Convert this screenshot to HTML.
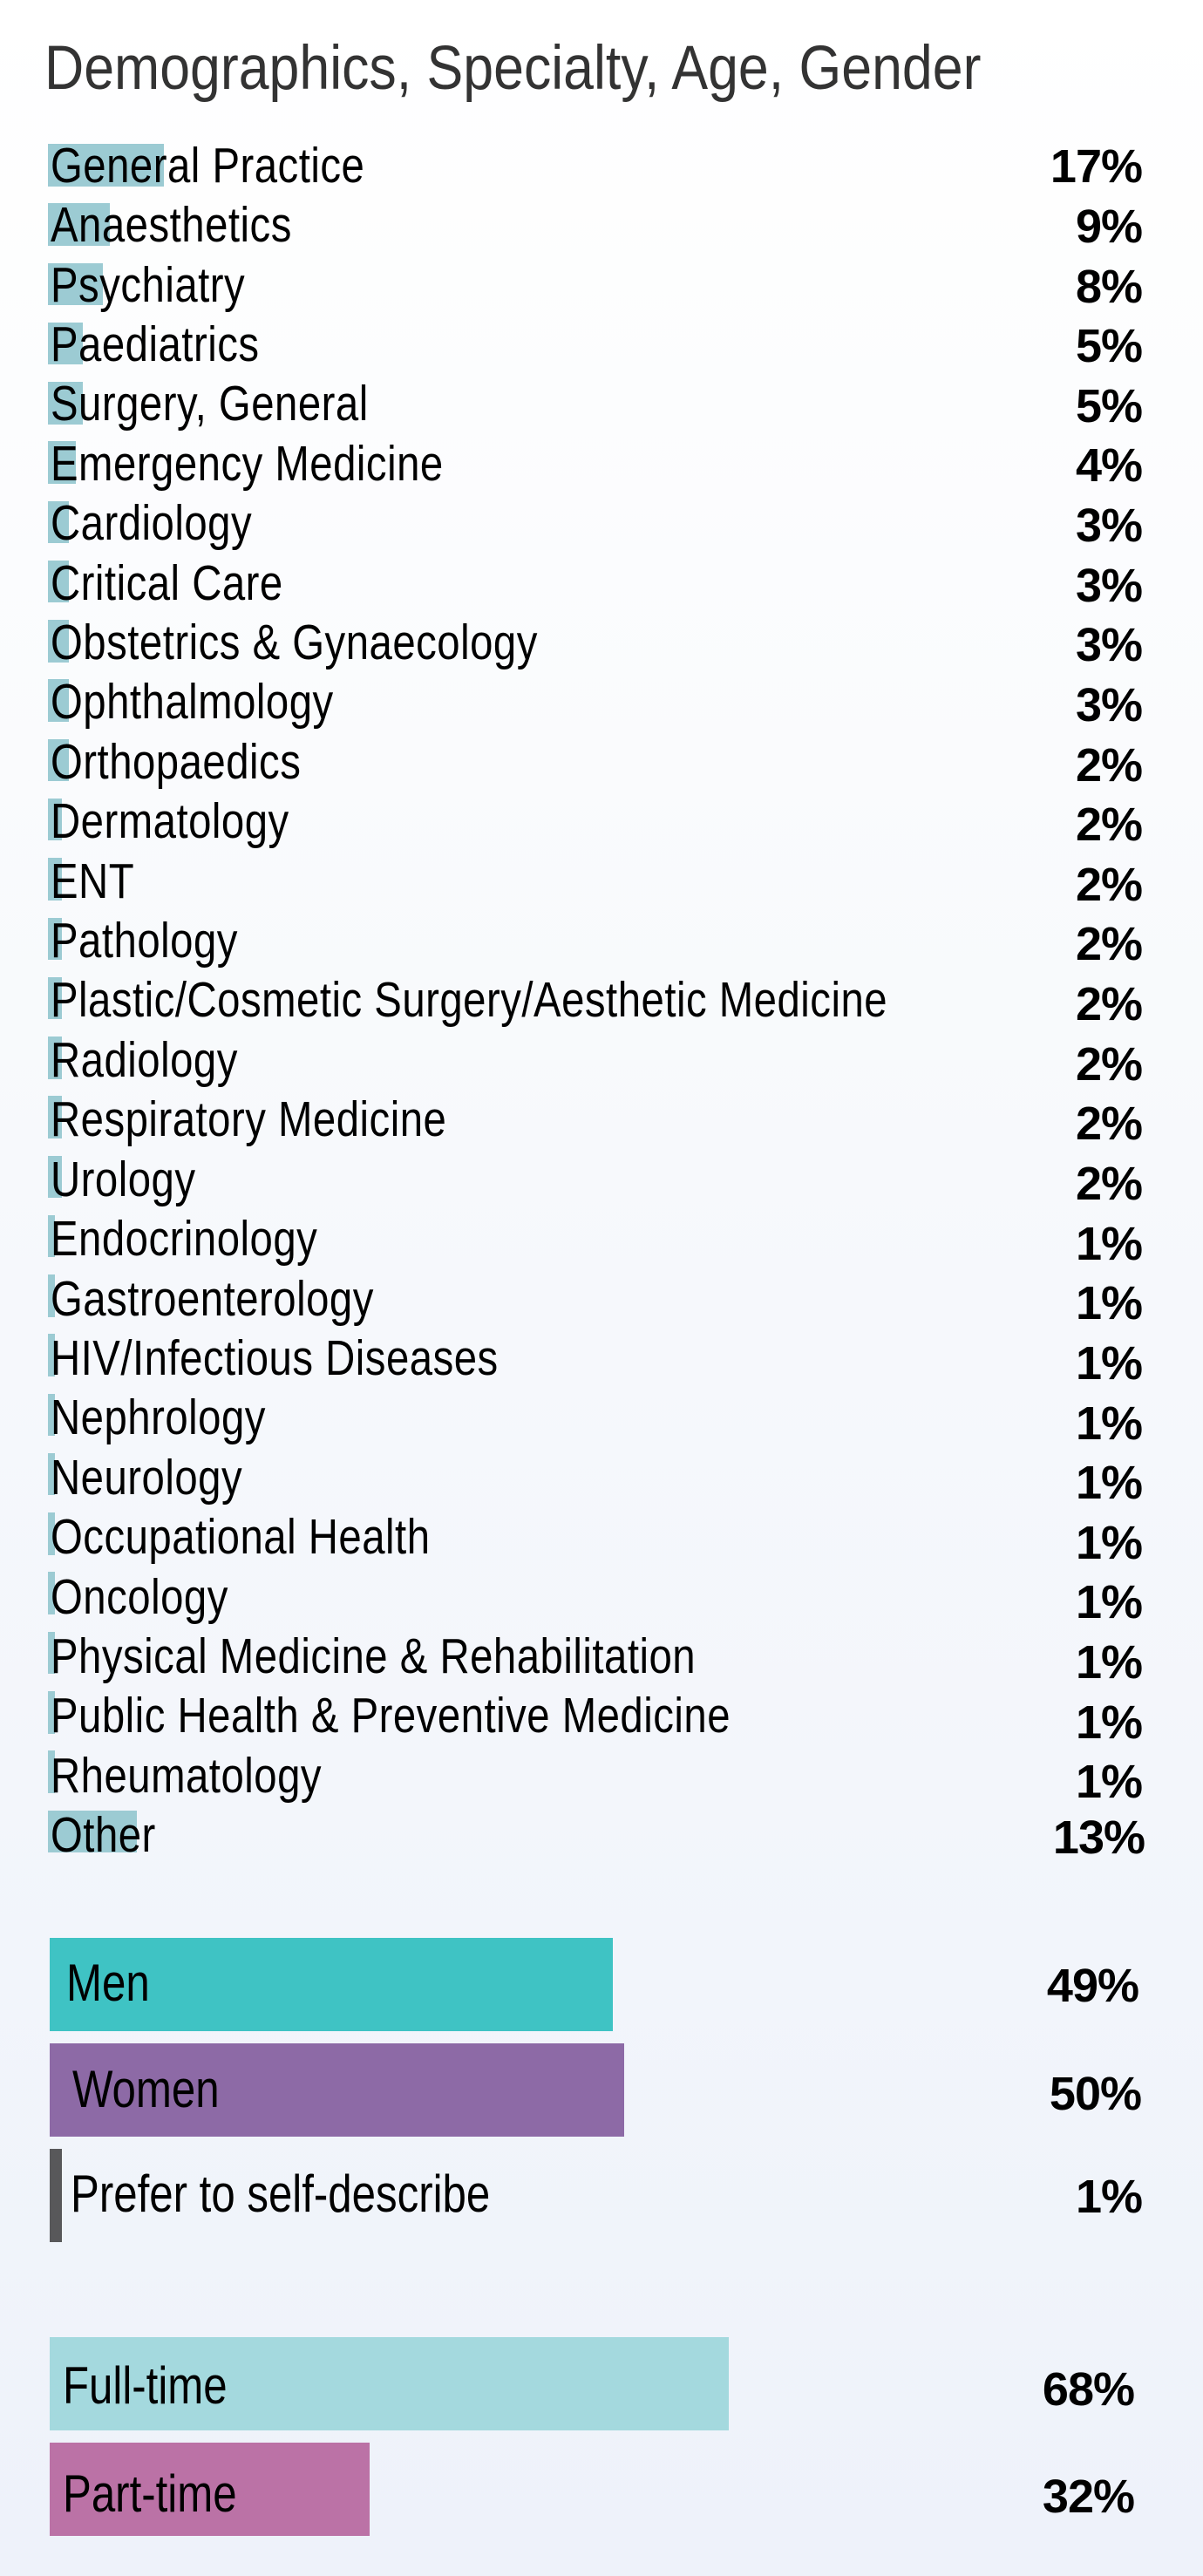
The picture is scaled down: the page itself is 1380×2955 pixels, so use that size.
<!DOCTYPE html>
<html>
<head>
<meta charset="utf-8">
<style>
  html, body { margin:0; padding:0; }
  body {
    width:1380px; height:2955px; overflow:hidden; position:relative;
    background: linear-gradient(to bottom, #ffffff 0%, #f7f9fc 45%, #eef2fa 100%);
    font-family: "Liberation Sans", Arial, sans-serif;
  }
  .title {
    position:absolute; left:51px; top:43px; font-size:71px; line-height:71px;
    color:#333; white-space:nowrap; transform:scaleX(0.882); transform-origin:0 0;
  }
  .bar { position:absolute; left:55px; height:48.5px; background:#9ccbd3;
    top: calc(165px + var(--i) * 68.27px); }
  .lab { position:absolute; left:58px; font-size:57px; line-height:57px; color:#000;
    white-space:nowrap; transform:scaleX(0.83); transform-origin:0 0; letter-spacing:0.6px;
    top: calc(161.75px + var(--i) * 68.41px); }
  .pct { position:absolute; right:70px; font-size:54px; line-height:54px; font-weight:bold;
    color:#000; letter-spacing:-1px; white-space:nowrap; text-align:right;
    top: calc(164.3px + var(--i) * 68.63px); }
  .gbar { position:absolute; left:57px; height:107px; }
  .glab { position:absolute; font-size:60px; line-height:60px; color:#000; white-space:nowrap;
    transform:scaleX(0.82); transform-origin:0 0; }
  .gpct { position:absolute; font-size:54px; line-height:54px; font-weight:bold; color:#000;
    letter-spacing:-1px; white-space:nowrap; text-align:right; }
</style>
</head>
<body>
<div class="title">Demographics, Specialty, Age, Gender</div>

<div class="bar" style="--i:0;width:133px"></div>
<div class="bar" style="--i:1;width:71px"></div>
<div class="bar" style="--i:2;width:63px"></div>
<div class="bar" style="--i:3;width:40px"></div>
<div class="bar" style="--i:4;width:40px"></div>
<div class="bar" style="--i:5;width:32px"></div>
<div class="bar" style="--i:6;width:24px"></div>
<div class="bar" style="--i:7;width:24px"></div>
<div class="bar" style="--i:8;width:24px"></div>
<div class="bar" style="--i:9;width:24px"></div>
<div class="bar" style="--i:10;width:24px"></div>
<div class="bar" style="--i:11;width:16px"></div>
<div class="bar" style="--i:12;width:16px"></div>
<div class="bar" style="--i:13;width:16px"></div>
<div class="bar" style="--i:14;width:16px"></div>
<div class="bar" style="--i:15;width:16px"></div>
<div class="bar" style="--i:16;width:16px"></div>
<div class="bar" style="--i:17;width:16px"></div>
<div class="bar" style="--i:18;width:8.3px"></div>
<div class="bar" style="--i:19;width:8.3px"></div>
<div class="bar" style="--i:20;width:8.3px"></div>
<div class="bar" style="--i:21;width:8.3px"></div>
<div class="bar" style="--i:22;width:8.3px"></div>
<div class="bar" style="--i:23;width:8.3px"></div>
<div class="bar" style="--i:24;width:8.3px"></div>
<div class="bar" style="--i:25;width:8.3px"></div>
<div class="bar" style="--i:26;width:8.3px"></div>
<div class="bar" style="--i:27;width:8.3px"></div>
<div class="bar" style="--i:28;width:102px"></div>

<div class="lab" style="--i:0">General Practice</div>
<div class="lab" style="--i:1">Anaesthetics</div>
<div class="lab" style="--i:2">Psychiatry</div>
<div class="lab" style="--i:3">Paediatrics</div>
<div class="lab" style="--i:4">Surgery, General</div>
<div class="lab" style="--i:5">Emergency Medicine</div>
<div class="lab" style="--i:6">Cardiology</div>
<div class="lab" style="--i:7">Critical Care</div>
<div class="lab" style="--i:8">Obstetrics &amp; Gynaecology</div>
<div class="lab" style="--i:9">Ophthalmology</div>
<div class="lab" style="--i:10">Orthopaedics</div>
<div class="lab" style="--i:11">Dermatology</div>
<div class="lab" style="--i:12">ENT</div>
<div class="lab" style="--i:13">Pathology</div>
<div class="lab" style="--i:14">Plastic/Cosmetic Surgery/Aesthetic Medicine</div>
<div class="lab" style="--i:15">Radiology</div>
<div class="lab" style="--i:16">Respiratory Medicine</div>
<div class="lab" style="--i:17">Urology</div>
<div class="lab" style="--i:18">Endocrinology</div>
<div class="lab" style="--i:19">Gastroenterology</div>
<div class="lab" style="--i:20">HIV/Infectious Diseases</div>
<div class="lab" style="--i:21">Nephrology</div>
<div class="lab" style="--i:22">Neurology</div>
<div class="lab" style="--i:23">Occupational Health</div>
<div class="lab" style="--i:24">Oncology</div>
<div class="lab" style="--i:25">Physical Medicine &amp; Rehabilitation</div>
<div class="lab" style="--i:26">Public Health &amp; Preventive Medicine</div>
<div class="lab" style="--i:27">Rheumatology</div>
<div class="lab" style="--i:28">Other</div>

<div class="pct" style="--i:0">17%</div>
<div class="pct" style="--i:1">9%</div>
<div class="pct" style="--i:2">8%</div>
<div class="pct" style="--i:3">5%</div>
<div class="pct" style="--i:4">5%</div>
<div class="pct" style="--i:5">4%</div>
<div class="pct" style="--i:6">3%</div>
<div class="pct" style="--i:7">3%</div>
<div class="pct" style="--i:8">3%</div>
<div class="pct" style="--i:9">3%</div>
<div class="pct" style="--i:10">2%</div>
<div class="pct" style="--i:11">2%</div>
<div class="pct" style="--i:12">2%</div>
<div class="pct" style="--i:13">2%</div>
<div class="pct" style="--i:14">2%</div>
<div class="pct" style="--i:15">2%</div>
<div class="pct" style="--i:16">2%</div>
<div class="pct" style="--i:17">2%</div>
<div class="pct" style="--i:18">1%</div>
<div class="pct" style="--i:19">1%</div>
<div class="pct" style="--i:20">1%</div>
<div class="pct" style="--i:21">1%</div>
<div class="pct" style="--i:22">1%</div>
<div class="pct" style="--i:23">1%</div>
<div class="pct" style="--i:24">1%</div>
<div class="pct" style="--i:25">1%</div>
<div class="pct" style="--i:26">1%</div>
<div class="pct" style="--i:27">1%</div>
<div class="pct" style="--i:28;top:2081.3px;right:67px">13%</div>

<!-- Gender -->
<div class="gbar" style="top:2223px;width:646px;background:#3fc3c4"></div>
<div class="gbar" style="top:2344px;width:659px;background:#8d6aa6"></div>
<div class="gbar" style="top:2465px;width:14px;background:#58585a"></div>
<div class="glab" style="left:76px;top:2245.2px">Men</div>
<div class="glab" style="left:83px;top:2367.2px">Women</div>
<div class="glab" style="left:80.6px;top:2486.8px">Prefer to self-describe</div>
<div class="gpct" style="right:74px;top:2251.3px">49%</div>
<div class="gpct" style="right:71px;top:2375px">50%</div>
<div class="gpct" style="right:70px;top:2493.3px">1%</div>

<!-- Employment -->
<div class="gbar" style="top:2681px;width:779px;background:#a4d9de"></div>
<div class="gbar" style="top:2802px;width:367px;background:#bb72a6"></div>
<div class="glab" style="left:72px;top:2707.2px">Full-time</div>
<div class="glab" style="left:72px;top:2830.7px">Part-time</div>
<div class="gpct" style="right:79px;top:2714.3px">68%</div>
<div class="gpct" style="right:79px;top:2837.3px">32%</div>
</body>
</html>
